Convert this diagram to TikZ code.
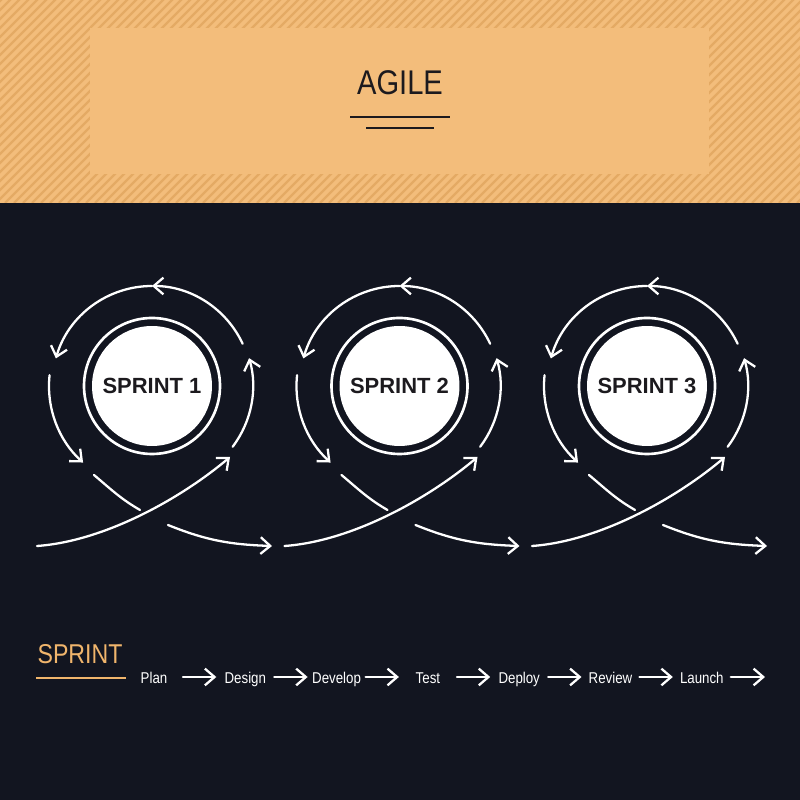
\documentclass[tikz,border=0pt]{standalone}
\usepackage{fontspec}
\setmainfont{Liberation Sans}
\newfontfamily\condfont[FakeStretch=0.85]{Liberation Sans}
\usepackage{xcolor}
\usetikzlibrary{arrows.meta,calc,positioning}
\definecolor{night}{HTML}{121520}
\definecolor{sand}{HTML}{F3BD7B}
\definecolor{sandline}{HTML}{E4AA64}
\definecolor{ink}{HTML}{1C1A1E}
\definecolor{gold}{HTML}{F0B56C}

\begin{document}
\begin{tikzpicture}[x=0.02cm,y=0.02cm,
  loop/.style={white,line width=1.3pt,line cap=round},
  tip/.style={-{Straight Barb[length=5.5pt,width=9.5pt]}},
  sprint/.style={circle,fill=white,minimum size=2.4cm,inner sep=0pt,text=ink,font=\bfseries\fontsize{12.5}{14}\selectfont},
  word/.style={text=white,text height=1.38ex,text depth=0pt,font=\condfont\fontsize{8.9}{10}\selectfont}]
  \useasboundingbox (0,0) rectangle (800,800);
  \fill[night] (0,0) rectangle (800,597);
  \fill[sand] (0,597) rectangle (800,800);
  \begin{scope}
    \clip (0,597) rectangle (800,800);
    \foreach \s in {-220,-211,...,800}
      \draw[sandline,line width=1.3pt] (\s,597) -- ++(210,210);
  \end{scope}
  \fill[sand] (90,626) rectangle (709,772);
  \node[text=ink,font=\condfont\fontsize{19.5}{22}\selectfont] (agile) at (400,717) {AGILE};
  \draw[ink,line width=1.5pt] (350,683) -- (450,683);
  \draw[ink,line width=1.5pt] (366,672) -- (434,672);

  \foreach \i/\x in {1/152,2/399.5,3/647}{
    \node[sprint] (s\i) at (\x,414) {SPRINT \i};
    \draw[white,line width=1.5pt] (s\i.center) circle (68);
    \draw[loop,tip] ($(s\i)+(-115,-160)$) .. controls +(70,5) and +(-46,-39) .. ($(s\i)+(78,-71)$);
    \draw[loop,tip] ($(s\i)+(-37:101)$) arc[start angle=-37,end angle=16,radius=101];
    \draw[loop,tip] ($(s\i)+(25:100)$) arc[start angle=25,end angle=90,radius=100];
    \draw[loop,tip] ($(s\i)+(90:100)$) arc[start angle=90,end angle=164,radius=100];
    \draw[loop,tip] ($(s\i)+(174:103)$) arc[start angle=174,end angle=228,radius=103];
    \draw[loop] ($(s\i)+(-58,-89)$) to[out=-40,in=150] ($(s\i)+(-12,-124)$);
    \draw[loop,tip] ($(s\i)+(16,-139)$) to[out=-22,in=178] ($(s\i)+(120,-160)$);
  }

  \node[text=gold,font=\condfont\fontsize{15.5}{18}\selectfont] (sprint) at (80,146) {SPRINT};
  \draw[gold,line width=1.3pt] (36,122) -- (126,122);
  \foreach \n/\t [count=\k] in {plan/Plan,design/Design,develop/Develop,test/Test,deploy/Deploy,review/Review,launch/Launch}
    \node[word] (\n) at (154+91.3*\k-91.3,123) {\t};
  \coordinate (end) at (794,123);
  \foreach \a/\b in {plan/design,design/develop,develop/test,test/deploy,deploy/review,review/launch,launch/end}
    \draw[loop,tip] ($(\a.center)+(29,0)$) -- ($(\b.center)-(29,0)$);
\end{tikzpicture}
\end{document}
